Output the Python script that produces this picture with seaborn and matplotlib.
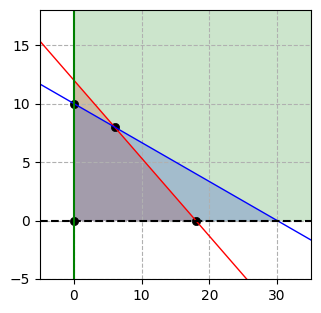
import matplotlib
matplotlib.use("Agg")
import matplotlib.pyplot as plt
import seaborn as sns
import numpy as np
import pandas as pd

# Constraint lines given by their axis intercepts
red_intercepts = {"x": 18, "y": 12}
blue_intercepts = {"x": 30, "y": 10}

x_limits = [-5, 35]
y_limits = [-5, 18]

# Corner points of the feasible region
vertex_x = [0, 0, 6, 18]
vertex_y = [0, 10, 8, 0]

def line_y(xs, ic):
    xs = np.asarray(xs, dtype=float)
    return ic["y"] - ic["y"] / ic["x"] * xs

fig = plt.figure(figsize=(3.21, 3.13), dpi=100)
ax = fig.add_axes([40 / 321, 1 - 279 / 313, 271 / 321, 269 / 313])

# shaded regions
xr = np.array([0, red_intercepts["x"]], dtype=float)
ax.fill_between(xr, 0, line_y(xr, red_intercepts), color="red", alpha=0.2, linewidth=0)
xb = np.array([0, blue_intercepts["x"]], dtype=float)
ax.fill_between(xb, 0, line_y(xb, blue_intercepts), color="blue", alpha=0.2, linewidth=0)
ax.fill_between([0, x_limits[1]], 0, y_limits[1], color="green", alpha=0.2, linewidth=0)

# vertices, drawn beneath the lines
sns.scatterplot(x=vertex_x, y=vertex_y, color="black", s=35, edgecolor="black",
                linewidth=0.5, zorder=1.8, ax=ax)

xs = np.array(x_limits, dtype=float)
df_red = pd.DataFrame({"x": xs, "y": line_y(xs, red_intercepts)})
df_blue = pd.DataFrame({"x": xs, "y": line_y(xs, blue_intercepts)})
sns.lineplot(data=df_red, x="x", y="y", color="red", linewidth=1, ax=ax, zorder=2)
sns.lineplot(data=df_blue, x="x", y="y", color="blue", linewidth=1, ax=ax, zorder=2)

ax.axhline(0, color="black", linestyle="--", linewidth=1.5, zorder=2)
ax.axvline(0, color="green", linewidth=1.5, zorder=2)

ax.set_xlim(x_limits)
ax.set_ylim(y_limits)
ax.grid(True, linestyle="--")
ax.set_xlabel("")
ax.set_ylabel("")

fig.savefig("out.png", dpi=100)
